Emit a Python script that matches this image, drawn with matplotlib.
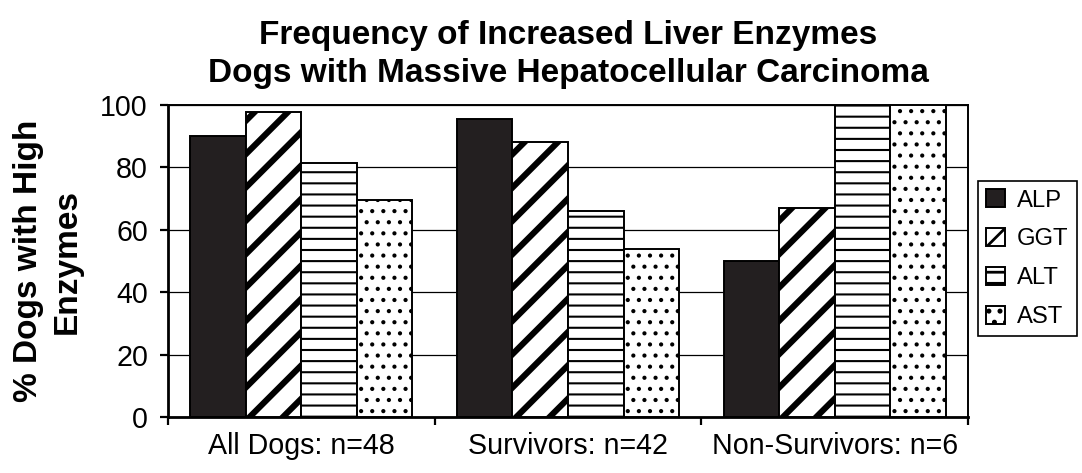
import numpy as np
import matplotlib
matplotlib.use("Agg")
import matplotlib.pyplot as plt

# values (% of dogs with high enzymes)
groups = ["All Dogs: n=48", "Survivors: n=42", "Non-Survivors: n=6"]
enzymes = ["ALP", "GGT", "ALT", "AST"]
alp = [90.0, 95.4, 50.0]
ggt = [97.9, 88.1, 67.0]
alt = [81.3, 66.1, 100.0]
ast = [69.7, 54.0, 100.0]
yticks = [0, 20, 40, 60, 80, 100]

series = [alp, ggt, alt, ast]
faces = ["#231f20", "white", "white", "white"]
hatches = [None, "//", "---", "..."]
hatch_lw = [0.7, 2.2, 0.75, 0.7]

plt.rcParams["font.family"] = ["Liberation Sans", "DejaVu Sans"]
plt.rcParams["hatch.color"] = "black"

W, H = 1082, 473
fig = plt.figure(figsize=(W / 200, H / 200), dpi=200)
ax = fig.add_axes([168 / W, 1 - 417 / H, 800 / W, 312 / H])

x = np.arange(len(groups))
bw = 1 / 4.8
for i, vals in enumerate(series):
    with plt.rc_context({"hatch.linewidth": hatch_lw[i]}):
        bars = ax.bar(x + (i - 1.5) * bw, vals, width=bw, color=faces[i],
                      edgecolor="black", linewidth=0.7, hatch=hatches[i],
                      label=enzymes[i], zorder=3)
    for b in bars:
        if hasattr(b, "set_hatch_linewidth"):
            b.set_hatch_linewidth(hatch_lw[i])

ax.set_xlim(-0.5, 2.5)
ax.set_ylim(0, 100)
ax.set_yticks(yticks)
ax.yaxis.grid(True, color="black", linewidth=0.45, zorder=0)
ax.set_axisbelow(True)

ax.set_xticks(x)
ax.set_xticklabels(groups, fontsize=10.3)
ax.set_xticks([-0.5, 0.5, 1.5, 2.5], minor=True)
ax.tick_params(axis="x", which="major", length=0, pad=5.4)
ax.tick_params(axis="x", which="minor", length=2.9, width=0.8, direction="out")
ax.tick_params(axis="y", labelsize=10.3, length=2.9, width=0.8, pad=4.3)

for s in ["left", "bottom"]:
    ax.spines[s].set_linewidth(1.0)
for s in ["top", "right"]:
    ax.spines[s].set_linewidth(0.7)

fig.text(568 / W, 1 - 82 / H,
         "Frequency of Increased Liver Enzymes\nDogs with Massive Hepatocellular Carcinoma",
         ha="center", va="baseline", fontsize=12, fontweight="bold", linespacing=1.31)
fig.text(48 / W, 1 - 261 / H, "% Dogs with High\nEnzymes", rotation=90,
         ha="center", va="center", fontsize=12, fontweight="bold", linespacing=1.31)

leg = ax.legend(loc="upper left", bbox_to_anchor=(978 / W, 1 - 181 / H),
                bbox_transform=fig.transFigure, borderaxespad=0, fontsize=8.6,
                handlelength=0.78, handleheight=0.78, handletextpad=0.5,
                labelspacing=0.69, borderpad=0.35, fancybox=False, framealpha=1)
leg.get_frame().set_edgecolor("black")
leg.get_frame().set_linewidth(0.6)

fig.savefig("out.png", dpi=200)
